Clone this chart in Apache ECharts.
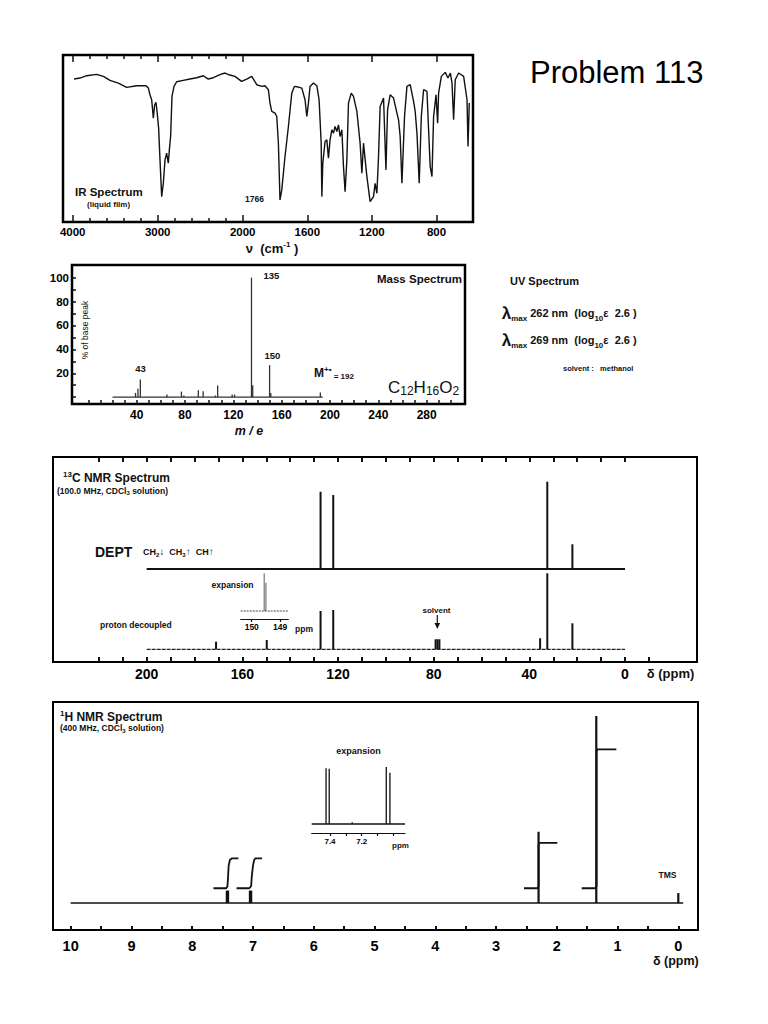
<!DOCTYPE html>
<html><head><meta charset="utf-8">
<script src="https://cdn.jsdelivr.net/npm/echarts@6/dist/echarts.min.js"></script>
<style>html,body{margin:0;padding:0;background:#fff}#c{width:768px;height:1024px}</style>
</head><body><div id="c"></div>
<script>
// ---------------- DATA ----------------
// IR spectrum: wavenumber (cm-1) and % transmittance
const irWavenumber = [3984,3914,3835,3718,3639,3561,3463,3365,3247,3138,3110,3091,3071,3051,3036,3020,3004,2989,2973,2953,2934,2914,2895,2875,2863,2848,2832,2808,2777,2699,2620,2542,2463,2405,2346,2267,2209,2150,2091,2013,1975,1944,1913,1882,1862,1841,1831,1820,1800,1789,1779,1769,1758,1738,1717,1696,1680,1655,1634,1614,1603,1593,1583,1562,1541,1527,1514,1510,1504,1490,1479,1469,1459,1448,1438,1428,1417,1407,1397,1386,1376,1366,1355,1345,1328,1314,1293,1273,1262,1252,1231,1211,1190,1180,1169,1159,1149,1128,1113,1103,1087,1066,1045,1035,1025,1014,998,983,963,942,932,921,907,894,880,859,849,839,828,818,803,793,787,770,746,729,714,704,694,684,663,632,611,605,597];
const irTransmittance = [85.6,86.2,87.6,88.4,87.2,84.8,83.2,80.6,81.6,81.6,80.2,76.2,73.2,62.2,70.2,71.6,64.2,56.2,37.2,15.2,23.2,37.2,41.2,35.2,43.2,51.2,75.2,81.2,84,84.8,85.6,86.4,87.6,85.6,86.4,88.2,89.2,88,87.2,84.2,85.6,87.2,82.2,81.2,81.6,79.2,71.2,66.2,65.2,63.2,47.2,13.2,19.2,39.2,57.2,77.2,81.2,80.8,80.2,73.2,63.2,71.2,81.2,83.2,81.6,73.2,47.2,15.2,35.2,48.2,49.2,38.2,49.2,55.2,53.2,57.2,54.2,58.2,51.2,55.2,33.2,18.2,37.2,71.2,77.2,75.2,66.2,47.2,29.2,47.2,27.2,12.2,15.2,23.2,17.2,39.2,69.2,74.2,31.2,67.2,76.2,74.2,65.2,61.2,51.2,23.2,63.2,81.2,82.2,72.2,66.2,53.2,23.2,63.2,79.2,78.2,55.2,33.2,27.2,63.2,76.2,59.2,77.2,87.2,89.6,86.2,89.2,83.2,61.2,85.2,89.2,87.2,73.2,45.2,71.2];
const irLabelTicks = [4000,3000,2000,1600,1200,800];
const irMinorTicks = [3800,3600,3400,3200,2800,2600,2400,2200];

// Mass spectrum
const massMz  = [39,41,43,65,77,79,91,95,105,107,119,121,135,136,150,151,192];
const massInt = [3.6,7,14.8,2.2,4.7,1.4,5.9,5,1.4,9.8,2.2,2.2,100,10,26.8,3.6,4];
const massBaseRange = [20,194];
const massXLabels = [40,80,120,160,200,240,280];
const massYLabels = [20,40,60,80,100];

// 13C NMR
const deptShift = [127.3,122.0,32.5,22.0];
const deptInt   = [88.5,84.8,100,28.3];
const decShift  = [171.0,149.8,127.3,122.0,79.2,78.4,77.6,35.5,32.5,22.0];
const decInt    = [10,12.2,50.4,51.7,13.2,13.2,13.2,14.5,100,34.2];
const cBaseRange = [200,0];
const cInsetShift = [149.56,149.50];
const cInsetInt   = [100,75];
const cInsetRange = [150.39,148.71];
const cLabels = [200,160,120,80,40,0];
const cInsetLabels = [150,149];

// 1H NMR
const hShift = [7.43,7.41,7.05,7.03,2.30,1.35,0.0];
const hInt   = [6.6,6.6,6.6,6.6,38.1,100,5.3];
const hBaseRange = [10.0,-0.08];
const integ1Ppm = [7.65,7.44,7.42,7.41,7.40,7.38,7.35,7.24];
const integ1Val = [7.9,7.9,9,14,20,23,23.9,23.9];
const integ2Ppm = [7.27,7.06,7.03,7.02,7.00,6.98,6.96,6.85];
const integ2Val = [7.9,7.9,9,14,20,23,23.9,23.9];
const integ3Ppm = [2.54,2.32,2.30,2.30,2.29,1.99];
const integ3Val = [7.9,7.9,9,31,32.2,32.2];
const integ4Ppm = [1.59,1.36,1.345,1.345,1.33,1.02];
const integ4Val = [7.9,7.9,9,81,82.2,82.2];
const hInsetShift = [7.425,7.405,7.26,7.045,7.022];
const hInsetInt   = [98,97,3,100,90];
const hInsetRange = [7.5155,6.9268];
const hLabels = [10,9,8,7,6,5,4,3,2,1,0];
const hInsetTicks = [7.4,7.3,7.2,7.1,7.0];
const hInsetLabels = [7.4,7.2];

// ---------------- HELPERS ----------------
const FONT = '"Liberation Sans", Arial, Helvetica, sans-serif';
const INK = '#111';
// IR chart uses an expanded scale below 2000 cm-1
function toU(nu){ return nu >= 2000 ? (4000 - nu)/1000 : 2 + 1.9*(2000 - nu)/1000; }
function fromU(u){ return u <= 2.0001 ? 4000 - u*1000 : 2000 - (u-2)*1000/1.9; }
function range(a,b,s){ const r=[]; for(let v=a; s>0 ? v<=b+1e-9 : v>=b-1e-9; v+=s) r.push(Math.round(v*1000)/1000); return r; }

function trace(xi, yi, xs, ys, w, color, type){
  return {type:'line', xAxisIndex:xi, yAxisIndex:yi, data: xs.map((x,i)=>[x, ys[i]]),
    showSymbol:false, symbol:'none', silent:true, clip:false,
    lineStyle:{width:w, color:color, type:type||'solid'}};
}
function sticks(xi, yi, xs, ys, w, color){
  return {type:'custom', xAxisIndex:xi, yAxisIndex:yi, silent:true, clip:false,
    data: xs.map((x,i)=>[x, ys[i]]), encode:{x:0, y:1},
    renderItem: function(params, api){
      const a = api.coord([api.value(0), 0]);
      const b = api.coord([api.value(0), api.value(1)]);
      return {type:'line', shape:{x1:a[0], y1:a[1], x2:b[0], y2:b[1]}, style:{stroke:color, lineWidth:w}};
    }};
}
const hidden = {show:false};
function hiddenX(gi, min, max, inverse){
  return {gridIndex:gi, type:'value', min, max, inverse:!!inverse, show:false, axisLine:{onZero:false}};
}
function hiddenY(gi, min, max){
  return {gridIndex:gi, type:'value', min, max, show:false, axisLine:{onZero:false}};
}
function tickAxis(gi, min, max, pos, ticks, len, w, labels, labelOpt, inverse){
  const ax = {gridIndex:gi, type:'value', min, max, position:pos, inverse:!!inverse,
    axisLine:{show:false, onZero:false}, splitLine:hidden,
    axisTick:{show:true, inside:true, length:len, customValues:ticks, lineStyle:{color:INK, width:w}},
    axisLabel:{show:false}};
  if (labels) {
    ax.axisLabel = Object.assign({show:true, customValues:labels, color:'#000', fontFamily:FONT, fontWeight:'bold'}, labelOpt);
  }
  return ax;
}
function txt(x, y, text, size, opts, extra){
  return Object.assign({type:'text', x, y, silent:true, style: Object.assign({text, fontSize:size, fontFamily:FONT, fontWeight:'bold',
    fill:INK, align:'left', verticalAlign:'middle', textAlign:'left', textVerticalAlign:'middle'}, opts||{})}, extra||{});
}
const subStyle = (fs) => ({fontSize:fs, fontFamily:FONT, fontWeight:'bold', fill:INK, verticalAlign:'bottom', lineHeight:fs});
const supStyle = (fs) => ({fontSize:fs, fontFamily:FONT, fontWeight:'bold', fill:INK, verticalAlign:'top', lineHeight:fs});

// ---------------- LAYOUT ----------------
const grids = [
  {left:63, top:55, width:410, height:167, show:true, borderColor:'#000', borderWidth:2.5, backgroundColor:'transparent'},   //0 IR
  {left:72, top:265, width:393, height:139, show:true, borderColor:'#000', borderWidth:2.5, backgroundColor:'transparent'},  //1 Mass
  {left:53, top:457, width:644, height:205, show:true, borderColor:'#000', borderWidth:2, backgroundColor:'transparent'},    //2 13C frame
  {left:53, top:481.7, width:644, height:87.3, show:false},  //3 DEPT
  {left:53, top:573.3, width:644, height:76, show:false},    //4 decoupled
  {left:240.7, top:573.3, width:47.6, height:37.7, show:false}, //5 13C inset
  {left:53, top:702, width:645, height:228, show:true, borderColor:'#000', borderWidth:2, backgroundColor:'transparent'},    //6 1H
  {left:311.7, top:767, width:93.3, height:57, show:false}   //7 1H inset
];

const IRMIN = -0.1141, IRMAX = 4.7094;
const C_MIN = -30.1, C_MAX = 239.17;
const H_MIN = -0.324, H_MAX = 10.291;

const xAxes = [
  tickAxis(0, IRMIN, IRMAX, 'bottom', irLabelTicks.map(toU), 7, 1.5, irLabelTicks.map(toU),
    {fontSize:11.5, margin:4, formatter: v => String(Math.round(fromU(v)/100)*100)}),   //0
  tickAxis(0, IRMIN, IRMAX, 'bottom', irMinorTicks.map(toU), 4, 1.5),                //1
  tickAxis(0, IRMIN, IRMAX, 'top', irLabelTicks.map(toU), 7, 1.5),                   //2
  tickAxis(0, IRMIN, IRMAX, 'top', irMinorTicks.map(toU), 4, 1.5),                   //3
  tickAxis(1, -13.58, 311.75, 'bottom', range(0,300,10), 4, 1.5, massXLabels, {fontSize:12, margin:5}), //4
  tickAxis(2, C_MIN, C_MAX, 'bottom', range(220,-10,-10), 5, 2, cLabels, {fontSize:14, margin:5}, true), //5
  tickAxis(2, C_MIN, C_MAX, 'top', range(220,0,-10), 5, 2, null, null, true),        //6
  hiddenX(3, C_MIN, C_MAX, true),  //7
  hiddenX(4, C_MIN, C_MAX, true),  //8
  {gridIndex:5, type:'value', min:cInsetRange[1], max:cInsetRange[0], inverse:true, position:'bottom', offset:8,
    axisLine:{show:true, onZero:false, lineStyle:{color:INK, width:1.2}}, splitLine:hidden,
    axisTick:{show:true, inside:false, length:3, customValues:cInsetLabels, lineStyle:{color:INK, width:1.2}},
    axisLabel:{show:true, customValues:cInsetLabels, margin:3, fontSize:8.5, fontFamily:FONT, fontWeight:'bold', color:'#000'}}, //9
  tickAxis(6, H_MIN, H_MAX, 'bottom', range(0,10,0.5), 4, 2, hLabels, {fontSize:14.5, margin:8}, true), //10
  {gridIndex:7, type:'value', min:hInsetRange[1], max:hInsetRange[0], inverse:true, position:'bottom', offset:9,
    axisLine:{show:true, onZero:false, lineStyle:{color:INK, width:1.2}}, splitLine:hidden,
    axisTick:{show:true, inside:false, length:3, customValues:hInsetTicks, lineStyle:{color:INK, width:1.2}},
    axisLabel:{show:true, customValues:hInsetLabels, margin:4, fontSize:8, fontFamily:FONT, fontWeight:'bold', color:'#000',
      formatter: v => v.toFixed(1)}} //11
];

const yAxes = [
  hiddenY(0, 0, 100),  //0
  {gridIndex:1, type:'value', min:-5.69, max:110.6, position:'left',
    axisLine:{show:false, onZero:false}, splitLine:hidden,
    axisTick:{show:true, inside:true, length:4, customValues:range(0,100,10), lineStyle:{color:INK, width:1.5}},
    axisLabel:{show:true, customValues:massYLabels, margin:3, fontSize:11.5, fontFamily:FONT, fontWeight:'bold', color:'#000'}}, //1
  hiddenY(2, 0, 100),  //2
  hiddenY(3, 0, 100),  //3
  hiddenY(4, 0, 100),  //4
  hiddenY(5, 0, 100),  //5
  hiddenY(6, -14.44, 107.49), //6
  hiddenY(7, 0, 100)   //7
];

const series = [
  trace(0, 0, irWavenumber.map(toU), irTransmittance, 1.4, INK),
  trace(4, 1, massBaseRange, [0,0], 1.2, '#333'),
  sticks(4, 1, massMz, massInt, 1.3, '#333'),
  trace(7, 3, cBaseRange, [0,0], 2, INK),
  sticks(7, 3, deptShift, deptInt, 2, INK),
  trace(8, 4, cBaseRange, [0,0], 1.2, '#222', [4,1]),
  sticks(8, 4, decShift, decInt, 2, INK),
  trace(9, 5, cInsetRange, [0,0], 1, '#444', [2,1]),
  sticks(9, 5, cInsetShift, cInsetInt, 1.2, '#777'),
  trace(10, 6, hBaseRange, [0,0], 1.5, INK),
  sticks(10, 6, hShift, hInt, 2.2, INK),
  trace(10, 6, integ1Ppm, integ1Val, 1.8, INK),
  trace(10, 6, integ2Ppm, integ2Val, 1.8, INK),
  trace(10, 6, integ3Ppm, integ3Val, 1.8, INK),
  trace(10, 6, integ4Ppm, integ4Val, 1.8, INK),
  trace(11, 7, hInsetRange, [0,0], 1.3, INK),
  sticks(11, 7, hInsetShift, hInsetInt, 1.3, INK)
];

const graphics = [
  txt(530, 72, 'Problem 113', 31, {fontWeight:'normal', fill:'#000'}),
  // IR
  txt(75, 191.7, 'IR Spectrum', 11.5),
  txt(87, 204.3, '(liquid film)', 8),
  txt(245, 199, '1766', 8.5),
  txt(272, 248, 'ν  (cm{sup|-1} )', 13, {align:'center', textAlign:'center', lineHeight:16, rich:{sup:supStyle(8)}}),
  // Mass
  txt(263.5, 275, '135', 9.5),
  txt(272.3, 355, '150', 9.5, {align:'center', textAlign:'center'}),
  txt(140.5, 368, '43', 9.5, {align:'center', textAlign:'center'}),
  txt(314, 373, 'M{sup|+•}{sm| = 192}', 12, {lineHeight:15, rich:{sup:supStyle(8), sm:{fontSize:8, fontFamily:FONT, fontWeight:'bold', fill:INK, verticalAlign:'bottom', lineHeight:11}}}),
  txt(377, 279.3, 'Mass Spectrum', 11.5),
  txt(388, 387, 'C{s|12}H{s|16}O{s|2}', 17, {fontWeight:'normal', lineHeight:20, rich:{s:{fontSize:12, fontFamily:FONT, fill:INK, verticalAlign:'bottom', lineHeight:14}}}),
  txt(85, 330, '% of base peak', 8.5, {align:'center', textAlign:'center', fontWeight:'normal'}, {rotation: Math.PI/2}),
  txt(249, 431, 'm / e', 12.5, {align:'center', textAlign:'center', fontStyle:'italic'}),
  // UV
  txt(510, 280.7, 'UV Spectrum', 11),
  txt(501.7, 313.3, '{l|λ}{s|max} 262 nm  (log{s|10}ε  2.6 )', 11, {lineHeight:18,
    rich:{l:{fontSize:17, fontFamily:FONT, fontWeight:'bold', fill:INK, lineHeight:18}, s:subStyle(8)}}),
  txt(501.7, 340, '{l|λ}{s|max} 269 nm  (log{s|10}ε  2.6 )', 11, {lineHeight:18,
    rich:{l:{fontSize:17, fontFamily:FONT, fontWeight:'bold', fill:INK, lineHeight:18}, s:subStyle(8)}}),
  txt(563, 368.3, 'solvent :   methanol', 7.5),
  // 13C
  txt(63, 478.3, '{sup|13}C NMR Spectrum', 12, {lineHeight:15, rich:{sup:supStyle(8)}}),
  txt(57, 490.5, '(100.0 MHz, CDCl{s|3} solution)', 8.5, {lineHeight:11, rich:{s:subStyle(6)}}),
  txt(95, 551.7, 'DEPT', 14),
  txt(143, 551.7, 'CH{s|2}{a|↓}  CH{s|3}{a|↑}  CH{a|↑}', 9, {lineHeight:12, rich:{s:subStyle(6), a:{fontSize:10, fontFamily:FONT, fontWeight:'bold', fill:INK, lineHeight:12}}}),
  txt(232.5, 585, 'expansion', 8.5, {align:'center', textAlign:'center'}),
  txt(100, 625, 'proton decoupled', 8.5),
  txt(295, 629, 'ppm', 8.5),
  txt(436.5, 610, 'solvent', 8, {align:'center', textAlign:'center'}),
  {type:'line', silent:true, shape:{x1:437.3, y1:615, x2:437.3, y2:626}, style:{stroke:INK, lineWidth:1.2}},
  {type:'polygon', silent:true, shape:{points:[[434.5,623],[440.1,623],[437.3,629]]}, style:{fill:INK}},
  txt(646.7, 673.3, 'δ (ppm)', 13),
  // 1H
  txt(60, 716.7, '{sup|1}H NMR Spectrum', 12, {lineHeight:15, rich:{sup:supStyle(8)}}),
  txt(60, 728, '(400 MHz, CDCl{s|3} solution)', 8.5, {lineHeight:11, rich:{s:subStyle(6)}}),
  txt(358.5, 750.7, 'expansion', 9, {align:'center', textAlign:'center'}),
  txt(392, 845, 'ppm', 8),
  txt(667.5, 875, 'TMS', 8.5, {align:'center', textAlign:'center'}),
  txt(653, 961, 'δ (ppm)', 12.5)
];

const chart = echarts.init(document.getElementById('c'), null, {renderer:'svg', width:768, height:1024});
chart.setOption({
  animation:false,
  backgroundColor:'#fff',
  textStyle:{fontFamily:FONT},
  grid: grids,
  xAxis: xAxes,
  yAxis: yAxes,
  series: series,
  graphic: {elements: graphics}
});
</script></body></html>
